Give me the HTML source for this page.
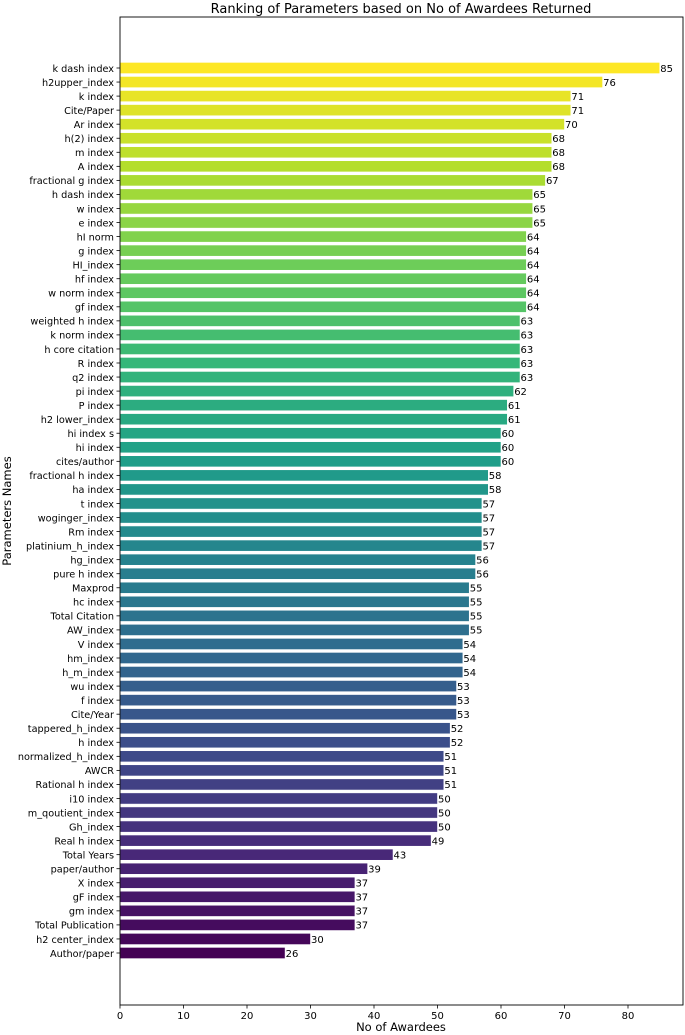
<!DOCTYPE html>
<html><head><meta charset="utf-8">
<style>
body{margin:0;background:#fff;}
svg{display:block;font-family:"DejaVu Sans","Liberation Sans",sans-serif;}
</style></head>
<body>
<svg id="chart" width="685" height="1035" viewBox="0 0 685 1035">
<text x="401" y="13" font-size="13" text-anchor="middle">Ranking of Parameters based on No of Awardees Returned</text>
<g id="bars"></g>
<g id="xticks"></g>
<g id="yticks"></g>
<rect x="120" y="17" width="563" height="988" fill="none" stroke="#000" stroke-width="0.9"/>
<text x="401" y="1031" font-size="11.5" text-anchor="middle">No of Awardees</text>
<text transform="translate(11,511) rotate(-90)" font-size="11.5" text-anchor="middle">Parameters Names</text>
</svg>
<script>
const categories=["k dash index","h2upper_index","k index","Cite/Paper","Ar index","h(2) index","m index","A index","fractional g index","h dash index","w index","e index","hI norm","g index","HI_index","hf index","w norm index","gf index","weighted h index","k norm index","h core citation","R index","q2 index","pi index","P index","h2 lower_index","hi index s","hi index","cites/author","fractional h index","ha index","t index","woginger_index","Rm index","platinium_h_index","hg_index","pure h index","Maxprod","hc index","Total Citation","AW_index","V index","hm_index","h_m_index","wu index","f index","Cite/Year","tappered_h_index","h index","normalized_h_index","AWCR","Rational h index","i10 index","m_qoutient_index","Gh_index","Real h index","Total Years","paper/author","X index","gF index","gm index","Total Publication","h2 center_index","Author/paper"];
const values=[85,76,71,71,70,68,68,68,67,65,65,65,64,64,64,64,64,64,63,63,63,63,63,62,61,61,60,60,60,58,58,57,57,57,57,56,56,55,55,55,55,54,54,54,53,53,53,52,52,51,51,51,50,50,50,49,43,39,37,37,37,37,30,26];
const xTicks=[0,10,20,30,40,50,60,70,80];
const NS="http://www.w3.org/2000/svg";
const x0=120,xScale=6.35,yTop=68,step=(953-68)/63,barH=step*0.8;
function xPos(v){return x0+v*xScale;}
function yPos(i){return yTop+i*step;}
const vir=[[68,1,84],[72,40,120],[62,74,137],[49,104,142],[38,130,142],[31,158,137],[53,183,121],[109,205,89],[180,222,44],[253,231,37]];
function viridis(t){const p=t*(vir.length-1),k=Math.min(Math.floor(p),vir.length-2),f=p-k;const a=vir[k],b=vir[k+1];return `rgb(${a.map((c,j)=>Math.round(c+(b[j]-c)*f)).join(',')})`;}
const bars=document.getElementById('bars'),yt=document.getElementById('yticks'),xt=document.getElementById('xticks');
const n=categories.length;
categories.forEach((c,i)=>{
  const r=document.createElementNS(NS,'rect');
  
  
  r.setAttribute('x',x0);r.setAttribute('y',yPos(i)-barH/2);
  r.setAttribute('width',xPos(values[i])-x0);r.setAttribute('height',barH);
  r.setAttribute('fill',viridis(1-i/(n-1)));
  r.setAttribute('stroke','#fff');r.setAttribute('stroke-width','0.6');
  bars.appendChild(r);
  const v=document.createElementNS(NS,'text');
  
  
  v.setAttribute('x',xPos(values[i])+0.5);v.setAttribute('y',yPos(i)+3.8);
  v.setAttribute('font-size','10');v.textContent=values[i];
  bars.appendChild(v);
  const t=document.createElementNS(NS,'text');
  
  
  t.setAttribute('x',x0-6);t.setAttribute('y',yPos(i)+3.8);
  t.setAttribute('font-size','9.7');t.setAttribute('text-anchor','end');t.textContent=c;
  yt.appendChild(t);
  const l=document.createElementNS(NS,'line');
  
  
  l.setAttribute('x1',x0-3.5);l.setAttribute('x2',x0);l.setAttribute('y1',yPos(i));l.setAttribute('y2',yPos(i));
  l.setAttribute('stroke','#000');l.setAttribute('stroke-width','0.8');
  yt.appendChild(l);
});
xTicks.forEach(v=>{
  const l=document.createElementNS(NS,'line');
  
  
  l.setAttribute('x1',xPos(v));l.setAttribute('x2',xPos(v));l.setAttribute('y1',1005);l.setAttribute('y2',1008.5);
  l.setAttribute('stroke','#000');l.setAttribute('stroke-width','0.8');
  xt.appendChild(l);
  const t=document.createElementNS(NS,'text');
  
  
  t.setAttribute('x',xPos(v));t.setAttribute('y',1019);
  t.setAttribute('font-size','10');t.setAttribute('text-anchor','middle');t.textContent=v;
  xt.appendChild(t);
});
</script>
</body></html>
